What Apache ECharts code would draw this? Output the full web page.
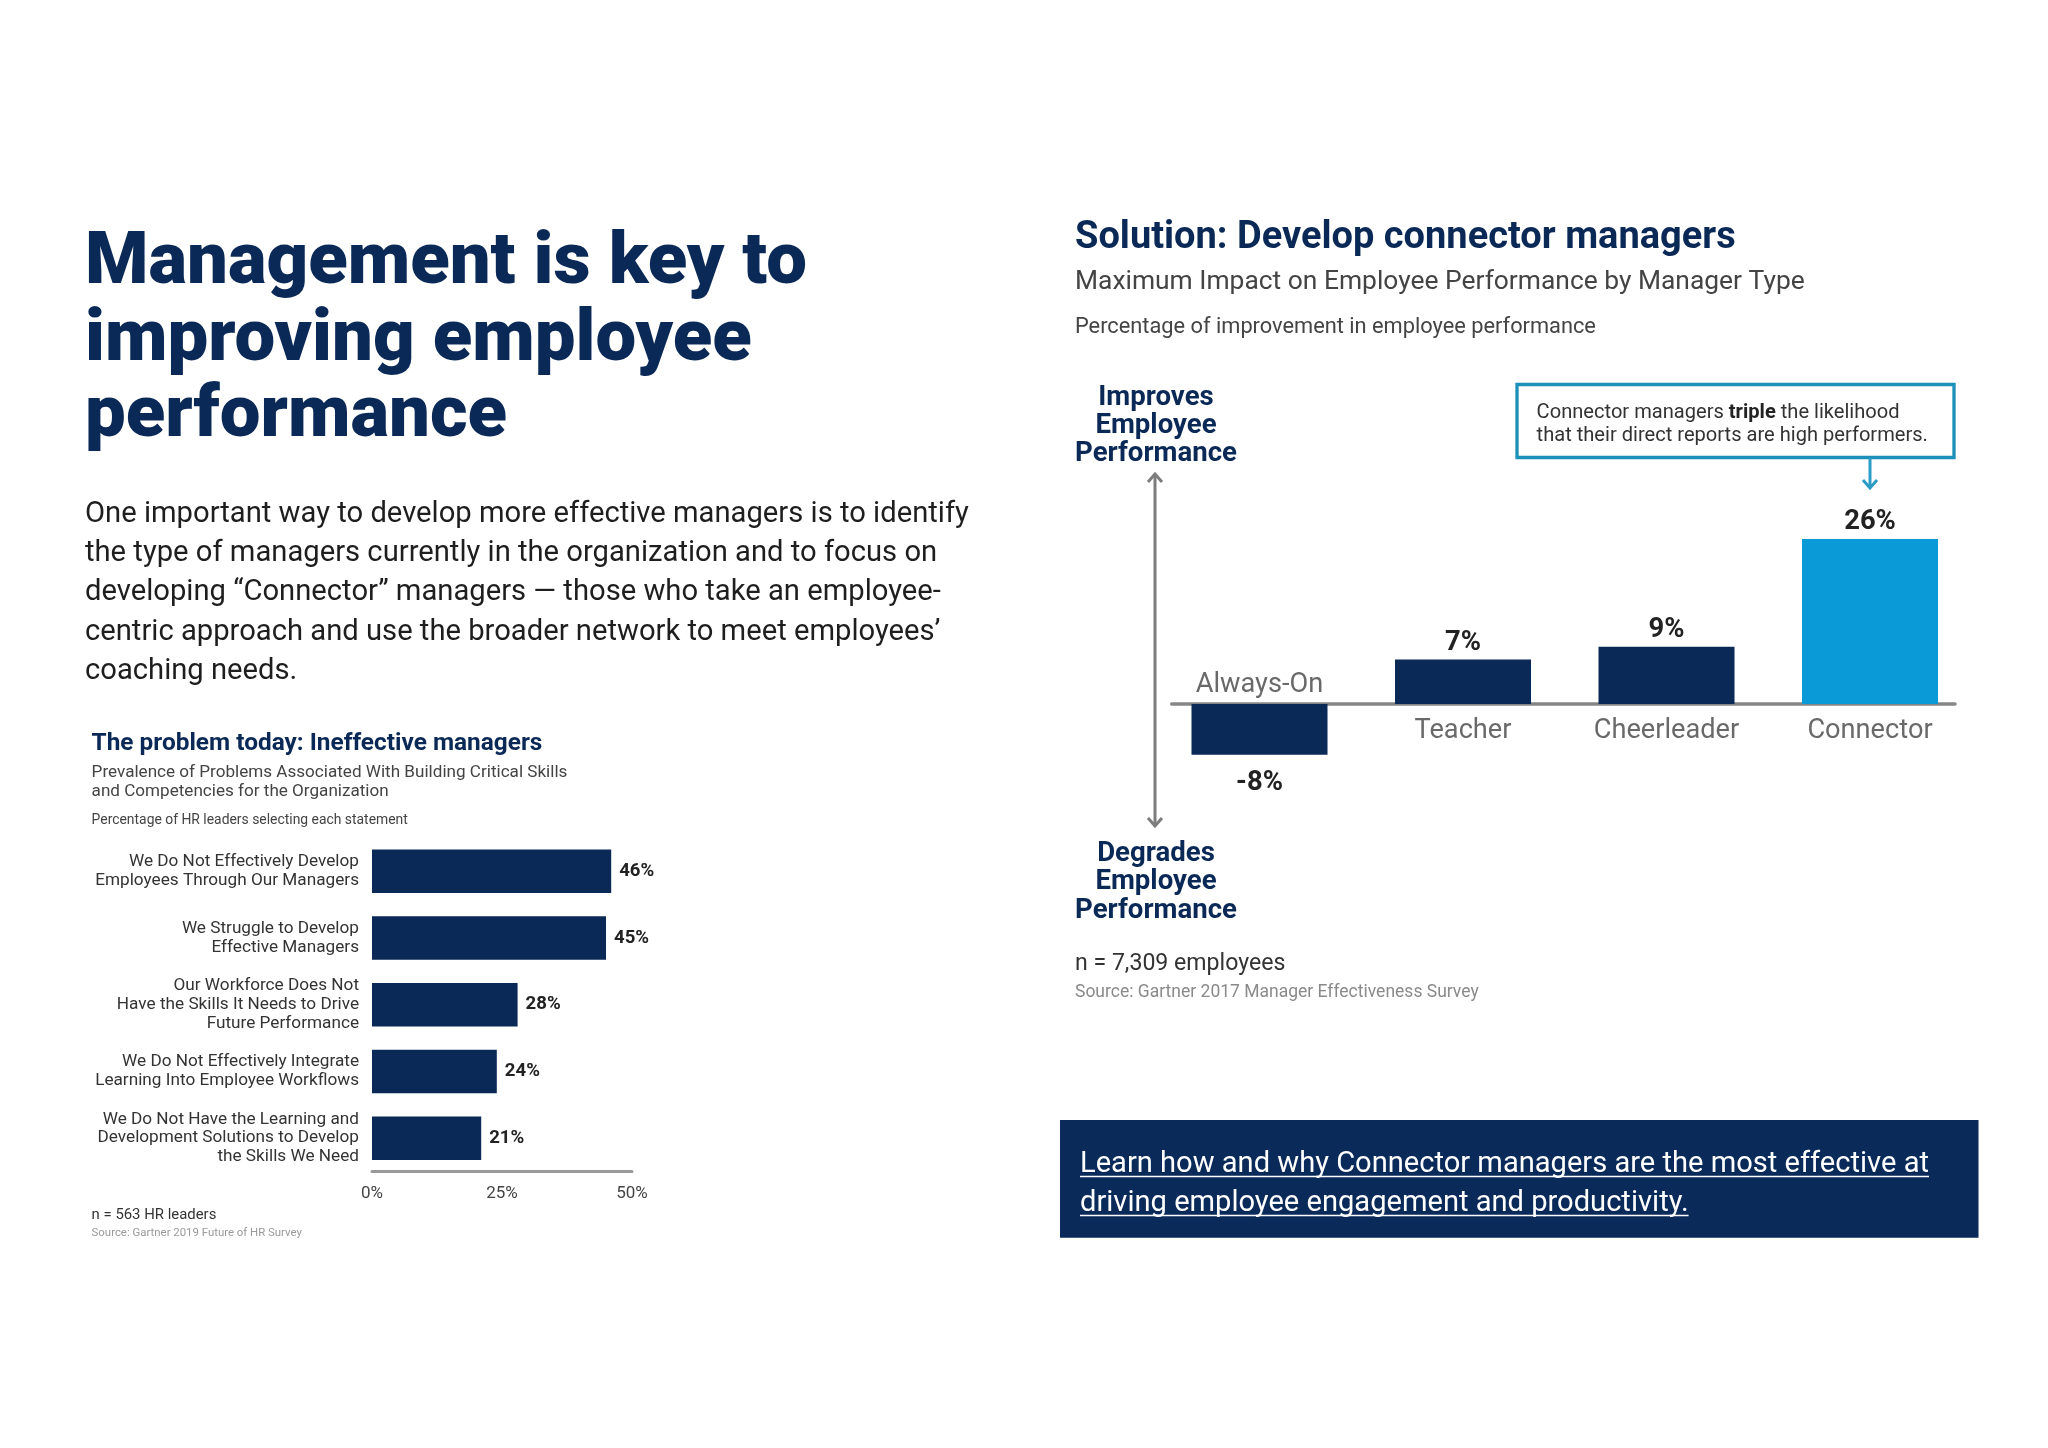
<!DOCTYPE html>
<html>
<head>
<meta charset="utf-8">
<script src="https://cdn.jsdelivr.net/npm/echarts@6/dist/echarts.min.js"></script>
<style>
  html, body { margin: 0; padding: 0; background: #fff; }
  #main { width: 2048px; height: 1448px; }
</style>
</head>
<body>
<div id="main"></div>
<script>
// left chart: problems
const problems = [
    'We Do Not Effectively Develop\nEmployees Through Our Managers',
    'We Struggle to Develop\nEffective Managers',
    'Our Workforce Does Not\nHave the Skills It Needs to Drive\nFuture Performance',
    'We Do Not Effectively Integrate\nLearning Into Employee Workflows',
    'We Do Not Have the Learning and\nDevelopment Solutions to Develop\nthe Skills We Need'
];
const problemShare = [46, 45, 28, 24, 21];
const problemTicks = [0, 25, 50];

// right chart: manager types
const managerTypes = ['Always-On', 'Teacher', 'Cheerleader', 'Connector'];
const managerImpact = [-8, 7, 9, 26];
const highlightType = 'Connector';
const impactRange = [-10, 30];

const headline = ['Management is key to', 'improving employee', 'performance'];
const intro = [
    'One important way to develop more effective managers is to identify',
    'the type of managers currently in the organization and to focus on',
    'developing \u201cConnector\u201d managers \u2014 those who take an employee-',
    'centric approach and use the broader network to meet employees\u2019',
    'coaching needs.'
];
const linkLines = [
    'Learn how and why Connector managers are the most effective at',
    'driving employee engagement and productivity.'
];

const NAVY = '#0b2957';
const BLUE = '#0a9ad7';
const FONT = 'Roboto, "Noto Sans", sans-serif';

// size fonts to the widths seen in the picture
const mctx = document.createElement('canvas').getContext('2d');
function textW(text, size, weight) {
    mctx.font = (weight || 'normal') + ' ' + size + 'px ' + FONT;
    return mctx.measureText(text).width;
}
function fit(text, width, weight) {
    return +(100 * width / textW(text, 100, weight)).toFixed(1);
}
function txt(x, y, text, size, color, weight, align) {
    return {
        type: 'text', x: x, y: y + 3, silent: true,
        style: {
            text: text, fontSize: size, fontFamily: FONT, fontWeight: weight || 'normal',
            fill: color, align: align || 'left', textAlign: align || 'left',
            verticalAlign: 'middle', textVerticalAlign: 'middle'
        }
    };
}

const headFs = fit(headline[0], 722, 900);
const introFs = fit(intro[0], 884);
const catFs = fit('Employees Through Our Managers', 264.5);
const nameFs = fit('Cheerleader', 145.7);
const linkFs = fit(linkLines[0], 848);

var myChart = echarts.init(document.getElementById('main'));
var option = {
    animation: false,
    grid: [
        {left: 372, top: 838, width: 260, height: 333.5},
        {left: 1157.75, top: 513.5, width: 814, height: 254},
        // zero line of the right chart is a bit shorter than its bar band
        {left: 1171.7, top: 513.5, width: 783.3, height: 254}
    ],
    xAxis: [{
        type: 'value', gridIndex: 0,
        min: problemTicks[0], max: problemTicks[problemTicks.length - 1],
        interval: problemTicks[1] - problemTicks[0],
        splitLine: {show: false},
        axisTick: {show: false},
        axisLine: {show: true, lineStyle: {color: '#9a9a9a', width: 3}},
        axisLabel: {formatter: '{value}%', fontFamily: FONT, fontSize: fit('50%', 31.6), color: '#444', margin: 14}
    }, {
        type: 'category', gridIndex: 1, data: managerTypes,
        axisTick: {show: false},
        axisLabel: {show: false},
        axisLine: {show: false}
    }, {
        type: 'value', gridIndex: 2, min: 0, max: 1,
        splitLine: {show: false},
        axisTick: {show: false},
        axisLabel: {show: false},
        axisLine: {show: true, onZero: true, lineStyle: {color: '#868686', width: 3.5}}
    }],
    yAxis: [{
        type: 'category', gridIndex: 0, data: problems, inverse: true,
        axisLine: {show: false},
        axisTick: {show: false},
        axisLabel: {fontFamily: FONT, fontSize: catFs, lineHeight: 18.7, color: '#333', margin: 13}
    }, {
        type: 'value', gridIndex: 1, min: impactRange[0], max: impactRange[1], show: false
    }, {
        type: 'value', gridIndex: 2, min: impactRange[0], max: impactRange[1], show: false
    }],
    series: [{
        type: 'bar', xAxisIndex: 0, yAxisIndex: 0, silent: true,
        data: problemShare, barWidth: 43.5,
        itemStyle: {color: NAVY},
        label: {
            show: true, position: 'right', distance: 8, formatter: '{c}%',
            fontFamily: FONT, fontWeight: 'bold', fontSize: fit('46%', 35, 'bold'), color: '#222'
        }
    }, {
        type: 'bar', xAxisIndex: 1, yAxisIndex: 1, silent: true, barWidth: 136, z: 3,
        data: managerImpact.map((v, i) => ({
            value: v,
            itemStyle: {color: managerTypes[i] === highlightType ? BLUE : NAVY},
            label: {position: v < 0 ? 'bottom' : 'top', distance: v < 0 ? 15 : 3}
        })),
        label: {
            show: true, formatter: '{c}%',
            fontFamily: FONT, fontWeight: 'bold', fontSize: fit('26%', 51.7, 'bold'), color: '#222'
        }
    }, {
        // manager type names sit on the zero line, above it for the negative bar
        type: 'scatter', xAxisIndex: 1, yAxisIndex: 1, silent: true, symbolSize: 1, z: 5,
        itemStyle: {color: 'rgba(0,0,0,0)'},
        data: managerTypes.map((t, i) => ({
            value: [t, 0],
            label: {position: managerImpact[i] < 0 ? 'top' : 'bottom', distance: managerImpact[i] < 0 ? 5 : 13}
        })),
        label: {
            show: true, formatter: p => p.value[0],
            fontFamily: FONT, fontSize: nameFs, color: '#444'
        }
    }]
};
myChart.setOption(option);

// annotations
const cx = myChart.convertToPixel({gridIndex: 1}, [highlightType, 0])[0];
const g = [];
headline.forEach((l, i) => g.push(txt(85, [282, 359, 435][i] - 0.34 * headFs + 5, l, headFs, NAVY, 900)));
intro.forEach((l, i) => g.push(txt(85, 518.3 + i * 39.3 - 0.34 * introFs + 3, l, introFs, '#1e1e1e')));

g.push(txt(91.6, 741, 'The problem today: Ineffective managers', fit('The problem today: Ineffective managers', 450.8, 'bold'), NAVY, 'bold'));
const subFs = fit('Prevalence of Problems Associated With Building Critical Skills', 476.5);
g.push(txt(91.6, 770, 'Prevalence of Problems Associated With Building Critical Skills', subFs, '#444'));
g.push(txt(91.6, 789, 'and Competencies for the Organization', subFs, '#444'));
g.push(txt(91.6, 817.3, 'Percentage of HR leaders selecting each statement', fit('Percentage of HR leaders selecting each statement', 317), '#444'));
g.push(txt(91.6, 1212.7, 'n = 563 HR leaders', fit('n = 563 HR leaders', 124.6), '#333'));
g.push(txt(91.6, 1230, 'Source: Gartner 2019 Future of HR Survey', fit('Source: Gartner 2019 Future of HR Survey', 210), '#999'));

g.push(txt(1075, 235, 'Solution: Develop connector managers', fit('Solution: Develop connector managers', 661, 'bold'), NAVY, 'bold'));
g.push(txt(1075, 279, 'Maximum Impact on Employee Performance by Manager Type', fit('Maximum Impact on Employee Performance by Manager Type', 731), '#444'));
g.push(txt(1075, 325, 'Percentage of improvement in employee performance', fit('Percentage of improvement in employee performance', 520), '#444'));

const sideFs = fit('Performance', 162, 'bold');
['Improves', 'Employee', 'Performance'].forEach((l, i) => g.push(txt(1156, 395 + i * 28, l, sideFs, NAVY, 'bold', 'center')));
['Degrades', 'Employee', 'Performance'].forEach((l, i) => g.push(txt(1156, 851 + i * 28.5, l, sideFs, NAVY, 'bold', 'center')));

// double-headed axis arrow
g.push({type: 'line', silent: true, shape: {x1: 1155, y1: 475, x2: 1155, y2: 825}, style: {stroke: '#7d7d7d', lineWidth: 3}});
g.push({type: 'polyline', silent: true, shape: {points: [[1148, 482], [1155, 474], [1162, 482]]}, style: {stroke: '#7d7d7d', lineWidth: 3, fill: null}});
g.push({type: 'polyline', silent: true, shape: {points: [[1148, 818], [1155, 826], [1162, 818]]}, style: {stroke: '#7d7d7d', lineWidth: 3, fill: null}});

// callout box
g.push({type: 'rect', silent: true, shape: {x: 1517, y: 384.5, width: 437, height: 73}, style: {stroke: '#1b90b9', lineWidth: 3.3, fill: '#fff'}});
const boxFs = fit('that their direct reports are high performers.', 391.6);
g.push({
    type: 'text', x: 1536.6, y: 413, silent: true,
    style: {
        text: '{a|Connector managers }{b|triple}{a| the likelihood}',
        verticalAlign: 'middle', textVerticalAlign: 'middle',
        rich: {
            a: {fontFamily: FONT, fontSize: boxFs, fill: '#333', color: '#333'},
            b: {fontFamily: FONT, fontSize: boxFs, fontWeight: 'bold', fill: '#222', color: '#222'}
        }
    }
});
g.push(txt(1536.6, 433, 'that their direct reports are high performers.', boxFs, '#333'));
g.push({type: 'line', silent: true, shape: {x1: cx, y1: 458, x2: cx, y2: 487}, style: {stroke: '#2a9cc6', lineWidth: 3}});
g.push({type: 'polyline', silent: true, shape: {points: [[cx - 7, 480], [cx, 488], [cx + 7, 480]]}, style: {stroke: '#2a9cc6', lineWidth: 3, fill: null}});

g.push(txt(1075, 961.7, 'n = 7,309 employees', fit('n = 7,309 employees', 210), '#333'));
g.push(txt(1075, 989.3, 'Source: Gartner 2017 Manager Effectiveness Survey', fit('Source: Gartner 2017 Manager Effectiveness Survey', 403.5), '#8a8a8a'));

// link banner
g.push({type: 'rect', silent: true, shape: {x: 1060, y: 1120, width: 918.5, height: 117.7}, style: {fill: '#0a2a5a'}});
linkLines.forEach((l, i) => {
    const y = [1162, 1201][i];
    g.push(txt(1080, y, l, linkFs, '#fff'));
    const uy = y + 3 + 0.34 * linkFs + 1.5;
    g.push({type: 'line', silent: true, shape: {x1: 1080, y1: uy, x2: 1080 + textW(l, linkFs), y2: uy}, style: {stroke: '#fff', lineWidth: 1.5}});
});

myChart.setOption({graphic: {elements: g}});
</script>
</body>
</html>
